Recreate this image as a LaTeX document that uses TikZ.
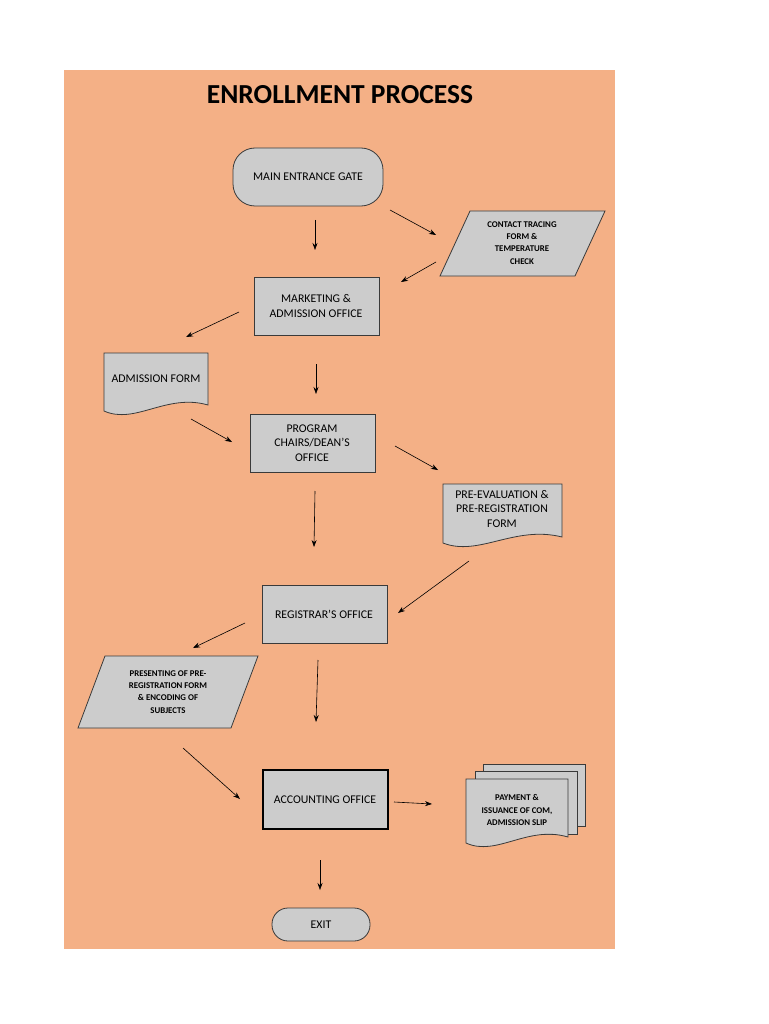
\documentclass[tikz,border=0pt]{standalone}
\usepackage{fontspec}
\setmainfont{Carlito}
\usetikzlibrary{arrows.meta,shapes.geometric}
\definecolor{bg}{HTML}{F4B086}
\definecolor{bx}{HTML}{CCCCCC}
\definecolor{ln}{HTML}{3A3A3A}
\newcommand{\docpath}[4]{% x1 y1 x2 y2
  (#1,#2) -- (#3,#2) -- (#3,#4-10) .. controls ({#1+0.6*(#3-#1)},{#4-22}) and ({#1+0.3*(#3-#1)},{#4+10}) .. (#1,#4-4) -- cycle}
\begin{document}
\begin{tikzpicture}[x=1pt,y=-1pt,
  shp/.style={fill=bx,draw=ln,line width=0.8pt},
  txt/.style={align=center,font=\fontsize{11.8}{14.5}\selectfont},
  stxt/.style={align=center,font=\fontsize{8.8}{12.2}\selectfont\bfseries},
  arr/.style={-{Stealth[length=7pt,width=5pt]},line width=0.6pt,black}]
\useasboundingbox (0,0) rectangle (768,1024);
\fill[white] (0,0) rectangle (768,1024);
\fill[bg] (64,70) rectangle (615,949);
\node[font=\fontsize{27.5}{30}\selectfont\bfseries] (title) at (340,95) {ENROLLMENT PROCESS};
% main gate
\draw[shp,rounded corners=22pt] (233,148) rectangle (383,206);
\node[txt] (gate) at (308,177) {MAIN ENTRANCE GATE};
% contact tracing
\draw[shp] (470,211) -- (605,211) -- (575,276) -- (440,276) -- cycle;
\node[stxt] (ct) at (522,243) {CONTACT TRACING\\FORM \&\\TEMPERATURE\\CHECK};
% marketing
\draw[shp] (254,277) rectangle (379,335);
\node[txt] (mk) at (316,306) {MARKETING \&\\ADMISSION OFFICE};
% admission form
\draw[shp] \docpath{104}{353}{208}{415};
\node[txt] (af) at (156,379) {ADMISSION FORM};
% program chairs
\draw[shp] (250,414) rectangle (375,472);
\node[txt] (pc) at (312,443) {PROGRAM\\CHAIRS/DEAN'S\\OFFICE};
% pre-eval
\draw[shp] \docpath{443}{484}{562}{547};
\node[txt] (pe) at (502,509) {PRE-EVALUATION \&\\PRE-REGISTRATION\\FORM};
% registrar
\draw[shp] (262,585) rectangle (387,643);
\node[txt] (rg) at (324,614) {REGISTRAR'S OFFICE};
% presenting
\draw[shp] (105,656) -- (258,656) -- (231,728) -- (78,728) -- cycle;
\node[stxt] (pr) at (168,692) {PRESENTING OF PRE-\\REGISTRATION FORM\\\& ENCODING OF\\SUBJECTS};
% accounting
\draw[shp,line width=1.4pt,draw=black] (263,770) rectangle (388,829);
\node[txt] (ac) at (325,800) {ACCOUNTING OFFICE};
% payment multidoc
\draw[shp] (483,764) rectangle (585,826);
\draw[shp] (475,771) rectangle (577,834);
\draw[shp] \docpath{466}{779}{568}{847};
\node[stxt] (pay) at (517,810) {PAYMENT \&\\ISSUANCE OF COM,\\ADMISSION SLIP};
% exit
\draw[shp,rounded corners=16pt] (272,908) rectangle (370,941);
\node[txt] (exit) at (321,925) {EXIT};
% arrows
\draw[arr] (315,220) -- (315,250);
\draw[arr] (390,210) -- (436,235);
\draw[arr] (436,262) -- (401,282);
\draw[arr] (239,312) -- (186,337);
\draw[arr] (316,364) -- (316,394);
\draw[arr] (191,419) -- (232,442);
\draw[arr] (395,446) -- (438,470);
\draw[arr] (315,491) -- (314,547);
\draw[arr] (469,561) -- (398,613);
\draw[arr] (245,623) -- (193,648);
\draw[arr] (318,660) -- (316,722);
\draw[arr] (183,748) -- (240,799);
\draw[arr] (394,802) -- (432,804);
\draw[arr] (320,860) -- (320,890);
\end{tikzpicture}
\end{document}
